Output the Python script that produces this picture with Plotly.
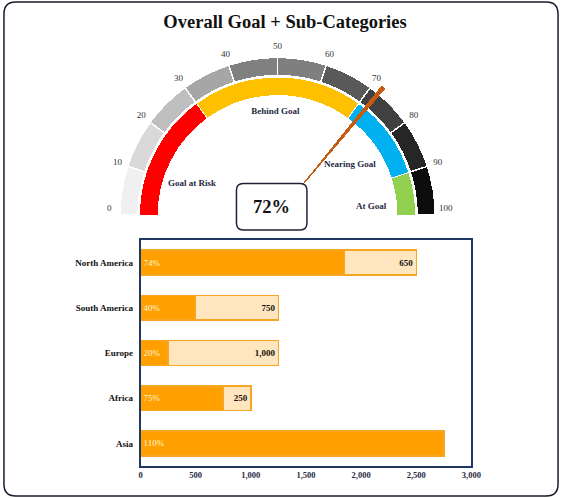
import plotly.graph_objects as go

W, H = 570, 498
SERIF = "Palatino Linotype, Book Antiqua, Palatino, Liberation Serif, serif"
NAVY = "#1f2a44"

# gauge data
gauge_value = 72
tick_values = [0, 10, 20, 30, 40, 50, 60, 70, 80, 90, 100]
scale_colors = ["#f0f0f0", "#d9d9d9", "#bfbfbf", "#a6a6a6", "#808080",
                "#7f7f7f", "#595959", "#404040", "#262626", "#0d0d0d"]
band_names = ["Goal at Risk", "Behind Goal", "Nearing Goal", "At Goal"]
band_start = [0, 30, 70, 90]
band_end = [30, 70, 90, 100]
band_colors = ["#ff0000", "#ffc000", "#00b0f0", "#92d050"]
label_value = [11.2, 49.3, 80.6, 97.3]
label_radius = [93, 106, 90, 96]

# bar data
regions = ["North America", "South America", "Europe", "Africa", "Asia"]
achieved = [1850, 500, 250, 750, 2750]
remaining = [650, 750, 1000, 250, 0]
pct_labels = ["74%", "40%", "20%", "75%", "110%"]


def deg(v):
    return v * 1.8


def px(x, y):
    return x / W, 1 - y / H


def rounded_rect(x0, y0, x1, y1, rad):
    rx, ry = rad / W, rad / H
    a, b = px(x0, y0)
    c, d = px(x1, y1)
    # b is top, d is bottom (paper units)
    return (f"M {a + rx},{b} L {c - rx},{b} Q {c},{b} {c},{b - ry} "
            f"L {c},{d + ry} Q {c},{d} {c - rx},{d} L {a + rx},{d} "
            f"Q {a},{d} {a},{d + ry} L {a},{b - ry} Q {a},{b} {a + rx},{b} Z")


fig = go.Figure()

# outer grey scale
fig.add_trace(go.Barpolar(
    theta=[deg(v + 5) for v in tick_values[:-1]],
    r=[18.5] * 10, base=[142.5] * 10, width=[18] * 10,
    marker=dict(color=scale_colors, line=dict(color="white", width=1.5)),
    hoverinfo="skip", showlegend=False,
))

# coloured bands
fig.add_trace(go.Barpolar(
    theta=[deg((s + e) / 2) for s, e in zip(band_start, band_end)],
    r=[19] * 4, base=[122] * 4,
    width=[deg(e - s) for s, e in zip(band_start, band_end)],
    marker=dict(color=band_colors, line=dict(color="white", width=1)),
    hoverinfo="skip", showlegend=False,
))

# needle
fig.add_trace(go.Barpolar(
    theta=[deg(gauge_value)], r=[170], base=[0], width=[1.7],
    marker=dict(color="#c55a11", line=dict(width=0)),
    hoverinfo="skip", showlegend=False,
))

# band names
fig.add_trace(go.Scatterpolar(
    theta=[deg(v) for v in label_value], r=label_radius,
    mode="text", text=[f"<b>{n}</b>" for n in band_names],
    textfont=dict(family=SERIF, size=9, color=NAVY),
    hoverinfo="skip", showlegend=False,
))

# scale numbers
fig.add_trace(go.Scatterpolar(
    theta=[deg(min(max(v, 1.2), 98.8)) for v in tick_values],
    r=[172] * len(tick_values),
    mode="text", text=[str(v) for v in tick_values],
    textfont=dict(family=SERIF, size=9, color="#333333"),
    cliponaxis=False, hoverinfo="skip", showlegend=False,
))

# bar chart
fig.add_trace(go.Bar(
    y=regions, x=achieved, orientation="h",
    marker=dict(color="#ffa000", line=dict(color="#f5a623", width=1.5)),
    text=pct_labels, textposition="inside", insidetextanchor="start",
    textfont=dict(family=SERIF, size=9, color="#fff2d6"),
    hoverinfo="skip", showlegend=False,
))
fig.add_trace(go.Bar(
    y=regions, x=remaining, orientation="h",
    marker=dict(color="#ffe6bf", line=dict(color="#f5a623", width=1.5)),
    text=[f"<b>{v:,}</b>" if v else "" for v in remaining],
    textposition="inside", insidetextanchor="end",
    textfont=dict(family=SERIF, size=9, color="#111111"),
    hoverinfo="skip", showlegend=False,
))

cx, cy, R = 281.5, 217, 185
gx0, gy1 = px(cx - R, cy - R)
gx1, gy0 = px(cx + R, cy)
bx0, by1 = px(141.5, 240)
bx1, by0 = px(479.5, 466)

fig.update_layout(
    width=W, height=H, autosize=False,
    margin=dict(l=0, r=0, t=0, b=0),
    paper_bgcolor="white", plot_bgcolor="white",
    font=dict(family=SERIF, color=NAVY),
    title=dict(text="<b>Overall Goal + Sub-Categories</b>",
               x=0.5, xanchor="center", y=1 - 22 / H, yanchor="middle",
               font=dict(family=SERIF, size=18.5, color="#111111")),
    barmode="stack", bargap=0.45,
    polar=dict(
        domain=dict(x=[gx0, gx1], y=[gy0, gy1]),
        sector=[0, 180], bgcolor="rgba(0,0,0,0)", barmode="overlay",
        radialaxis=dict(range=[0, R], visible=False),
        angularaxis=dict(
            rotation=180, direction="clockwise",
            showgrid=False, showline=False, ticks="", showticklabels=False,
        ),
    ),
    xaxis=dict(
        domain=[bx0, bx1], range=[0, 3000], dtick=500, tickformat=",",
        showgrid=False, zeroline=False,
        showline=True, mirror=True, linecolor="#203864", linewidth=1.5,
        tickfont=dict(family=SERIF, size=8.5, color=NAVY, weight="bold"),
    ),
    yaxis=dict(
        domain=[by0, by1], autorange="reversed",
        showgrid=False, zeroline=False,
        showline=True, mirror=True, linecolor="#203864", linewidth=1.5,
        ticklabelstandoff=4,
        tickfont=dict(family=SERIF, size=9, color="#111111", weight="bold"),
    ),
    shapes=[
        dict(type="path", xref="paper", yref="paper",
             path=rounded_rect(2, 2, 568, 496, 12),
             line=dict(color="#1a1a2e", width=1.5), fillcolor="rgba(0,0,0,0)"),
        dict(type="path", xref="paper", yref="paper", layer="above",
             path=rounded_rect(239.5, 183.5, 311.5, 230, 7),
             line=dict(color="#1f1f3a", width=1.5), fillcolor="white"),
    ],
    annotations=[
        dict(text="<b>72%</b>", x=275.5 / W, y=1 - 207 / H,
             xref="paper", yref="paper", showarrow=False,
             font=dict(family=SERIF, size=18.5, color="#111111")),
    ],
)

page_fix = (
    "document.documentElement.style.overflow='hidden';"
    "document.body.style.margin='0px';"
    "document.body.style.overflow='hidden';"
)
fig.write_html("out.html", config={"displayModeBar": False},
               post_script=page_fix)
